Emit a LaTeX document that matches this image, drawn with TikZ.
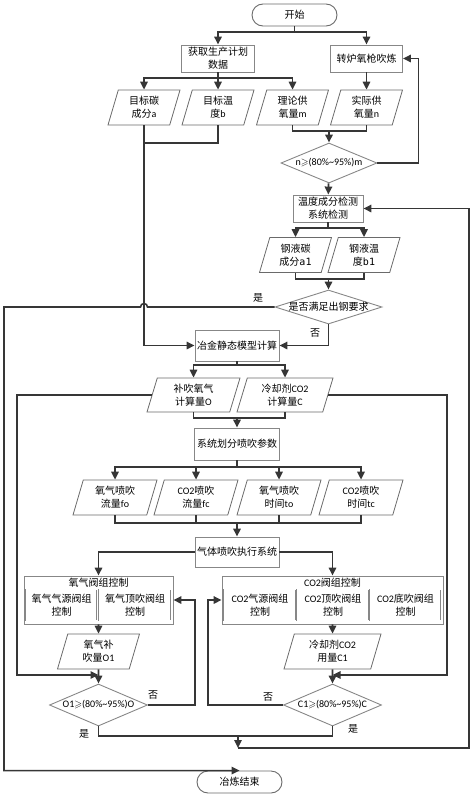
\documentclass[tikz,border=0pt]{standalone}
\usepackage{amssymb}
\usepackage{fontspec}
\setmainfont{Noto Sans CJK SC}
\newfontfamily\lat{Carlito}
\newfontfamily\mono{DejaVu Sans Mono}
\usetikzlibrary{shapes.geometric,arrows.meta}
\definecolor{linegray}{HTML}{363636}
\definecolor{boxgray}{HTML}{878787}
\definecolor{iogray}{HTML}{6A6A6A}

\begin{document}
\begin{tikzpicture}[x=1pt, y=-1pt, font=\fontsize{10}{13}\selectfont,
	proc/.style={draw=boxgray, line width=0.9pt, fill=white, align=center, inner sep=1pt, minimum width=84pt, minimum height=30pt},
	sub/.style={draw=boxgray, double=white, double distance=0.8pt, line width=0.5pt, align=center, inner sep=1pt, minimum width=71pt, minimum height=31pt},
	io/.style={draw=iogray, line width=0.8pt, trapezium, trapezium left angle=67, trapezium right angle=113, trapezium stretches body, align=center, inner sep=1pt, minimum width=72pt, minimum height=35pt},
	dec/.style={draw=boxgray, line width=0.9pt, diamond, aspect=2.4, inner sep=0pt, minimum width=98pt, minimum height=42pt},
	term/.style={draw=iogray, line width=0.9pt, rounded corners=11pt, minimum width=85pt, minimum height=22pt},
	conn/.style={draw=linegray, line width=1.6pt},
	arr/.style={conn, -{Triangle[length=8pt, width=7.5pt]}}]
	\useasboundingbox (0,0) rectangle (474,798);

	% top part
	\node[term] (start) at (294.5,15) {开始};
	\node[proc, minimum width=73pt, minimum height=27pt] (plan) at (218,58.5) {获取生产计划\\数据};
	\node[proc, minimum width=72pt, minimum height=27pt] (blow) at (366.5,58.5) {转炉氧枪吹炼};
	\node[io] (tc) at (144,107.5) {目标碳\\成分{\lat a}};
	\node[io] (tt) at (218,107.5) {目标温\\度{\lat b}};
	\node[io] (om) at (292.5,107.5) {理论供\\氧量{\lat m}};
	\node[io] (on) at (366.5,107.5) {实际供\\氧量{\lat n}};
	\node[dec, minimum width=96pt, minimum height=40pt] (chkn) at (329,163) {\makebox[0pt]{\lat n$\geqslant$(80\%\textasciitilde95\%)m}};
	\node[proc, minimum width=70pt, minimum height=27pt] (detect) at (328,208.5) {温度成分检测\\系统检测};
	\node[io] (ca1) at (295.5,255) {钢液碳\\成分{\mono a1}};
	\node[io] (tb1) at (364,255) {钢液温\\度{\mono b1}};
	\node[dec, minimum width=107pt, minimum height=34pt] (tap) at (328.5,307) {\makebox[0pt]{是否满足出钢要求}};

	% model and parameters
	\node[proc, minimum height=31pt] (model) at (237,345.5) {冶金静态模型计算};
	\node[io, minimum width=93pt, minimum height=34pt] (oc) at (193.5,395) {补吹氧气\\计算量{\lat O}};
	\node[io, minimum width=96pt, minimum height=34pt] (cc) at (285,395) {冷却剂{\lat CO2}\\计算量{\lat C}};
	\node[proc, minimum width=85pt, minimum height=32pt] (param) at (237,444) {系统划分喷吹参数};
	\node[io, minimum width=84pt] (ofl) at (115,497.5) {氧气喷吹\\流量{\lat fo}};
	\node[io, minimum width=84pt] (cfl) at (196,497.5) {{\lat CO2}喷吹\\流量{\lat fc}};
	\node[io, minimum width=84pt] (oti) at (279,497.5) {氧气喷吹\\时间{\lat to}};
	\node[io, minimum width=84pt] (cti) at (361,497.5) {{\lat CO2}喷吹\\时间{\lat tc}};
	\node[proc] (gas) at (237,552) {气体喷吹执行系统};

	% valve groups
	\node[draw=boxgray, line width=0.9pt, minimum width=149pt, minimum height=48pt] (ovg) at (98.5,600) {};
	\node (ovgt) at (98.5,582.5) {氧气阀组控制};
	\node[sub] (ovs) at (61.5,605) {氧气气源阀组\\控制};
	\node[sub, minimum width=72pt] (ovt) at (135,605) {氧气顶吹阀组\\控制};
	\node[draw=boxgray, line width=0.9pt, minimum width=221pt, minimum height=48pt] (cvg) at (332.5,600) {};
	\node (cvgt) at (332.5,582.5) {{\lat CO2}阀组控制};
	\node[sub, minimum width=72pt] (cvs) at (260,605) {{\lat CO2}气源阀组\\控制};
	\node[sub, minimum width=72pt] (cvt) at (333,605) {{\lat CO2}顶吹阀组\\控制};
	\node[sub] (cvb) at (405.5,605) {{\lat CO2}底吹阀组\\控制};
	\node[io, minimum width=82pt] (o1) at (98.5,651.5) {氧气补\\吹量{\lat O1}};
	\node[io, minimum width=97pt] (c1) at (332.5,651.5) {冷却剂{\lat CO2}\\用量{\lat C1}};
	\node[dec] (chko) at (98.5,705) {\makebox[0pt]{\lat O1$\geqslant$(80\%\textasciitilde95\%)O}};
	\node[dec] (chkc) at (332.5,705) {\makebox[0pt]{\lat C1$\geqslant$(80\%\textasciitilde95\%)C}};
	\node[term] (stop) at (239.5,782) {冶炼结束};

	% labels
	\node (yes1) at (258,298) {是};
	\node (no1) at (315,333) {否};
	\node (no2) at (153,695) {否};
	\node (no3) at (268,697) {否};
	\node (yes2) at (84,734) {是};
	\node (yes3) at (353,729) {是};

	% branch points
	\coordinate (s1) at (294.5,32);
	\coordinate (p1) at (218,78);
	\coordinate (m1) at (329,131);
	\coordinate (m3) at (144,143);
	\coordinate (d1) at (328,228);
	\coordinate (m2) at (328.5,279);
	\coordinate (jump) at (147.5,307);
	\coordinate (lb) at (4,307);
	\coordinate (m4) at (237,365);
	\coordinate (m5) at (237,418);
	\coordinate (m6) at (237,467);
	\coordinate (m7) at (237,523);
	\coordinate (lx) at (17,675);
	\coordinate (rx) at (447,675);
	\coordinate (oin) at (98.5,675);
	\coordinate (cin) at (332.5,675);
	\coordinate (ob) at (195,705);
	\coordinate (cb) at (208,705);
	\coordinate (m8) at (238,736);
	\coordinate (m9) at (238,748);
	\coordinate (rb) at (469,748);

	% connectors
	\draw[conn] (start.south) -- (s1);
	\draw[arr] (s1) -| (plan);
	\draw[arr] (s1) -| (blow);
	\draw[conn] (plan) -- (p1);
	\draw[arr] (p1) -| (tc);
	\draw[arr] (p1) -- (tt);
	\draw[arr] (p1) -| (om);
	\draw[arr] (blow) -- (on);
	\draw[conn] (om.south) |- (m1) -| (on.south);
	\draw[arr] (m1) -- (chkn);
	\draw[arr] (chkn.east) -- ++(41,0) |- (blow.east);
	\draw[arr] (chkn) -- (detect);
	\draw[conn] (detect) -- (d1);
	\draw[arr] (d1) -| (ca1);
	\draw[arr] (d1) -| (tb1);
	\draw[conn] (ca1.south) |- (m2) -| (tb1.south);
	\draw[arr] (m2) -- (tap);
	\draw[conn] (tt.south) |- (m3);
	\draw[arr] (tc.south) |- (model.west);
	\draw[arr] (tap.south) |- (model.east);
	\draw[arr] (tap.west) -- (jump) arc[start angle=0, end angle=180, radius=3.5pt] -- (lb) |- (stop.north);
	\draw[conn] (model) -- (m4);
	\draw[arr] (m4) -| (oc);
	\draw[arr] (m4) -| (cc);
	\draw[conn] (oc.south) |- (m5) -| (cc.south);
	\draw[arr] (m5) -- (param);
	\draw[conn] (param) -- (m6);
	\foreach \n in {ofl,cfl,oti,cti}
		\draw[arr] (m6) -| (\n);
	\draw[conn] (ofl.south) |- (m7) -| (cti.south);
	\draw[conn] (cfl.south) -- (cfl.south |- m7);
	\draw[conn] (oti.south) -- (oti.south |- m7);
	\draw[arr] (m7) -- (gas);
	\draw[arr] (gas.west) -| (ovg.north);
	\draw[arr] (gas.east) -| (cvg.north);
	\draw[arr] (ovg) -- (o1);
	\draw[arr] (cvg) -- (c1);
	\draw[arr] (o1) -- (chko);
	\draw[arr] (c1) -- (chkc);
	\draw[arr] (oc.west) -| (lx) -- (oin);
	\draw[arr] (cc.east) -| (rx) -- (cin);
	\draw[arr] (chko.east) -- (ob) |- (ovg.east);
	\draw[arr] (chkc.west) -- (cb) |- (cvg.west);
	\draw[conn] (chko.south) |- (m8) -| (chkc.south);
	\draw[arr] (m8) -- (m9);
	\draw[arr] (m9) -- (rb) |- (detect.east);
\end{tikzpicture}
\end{document}
